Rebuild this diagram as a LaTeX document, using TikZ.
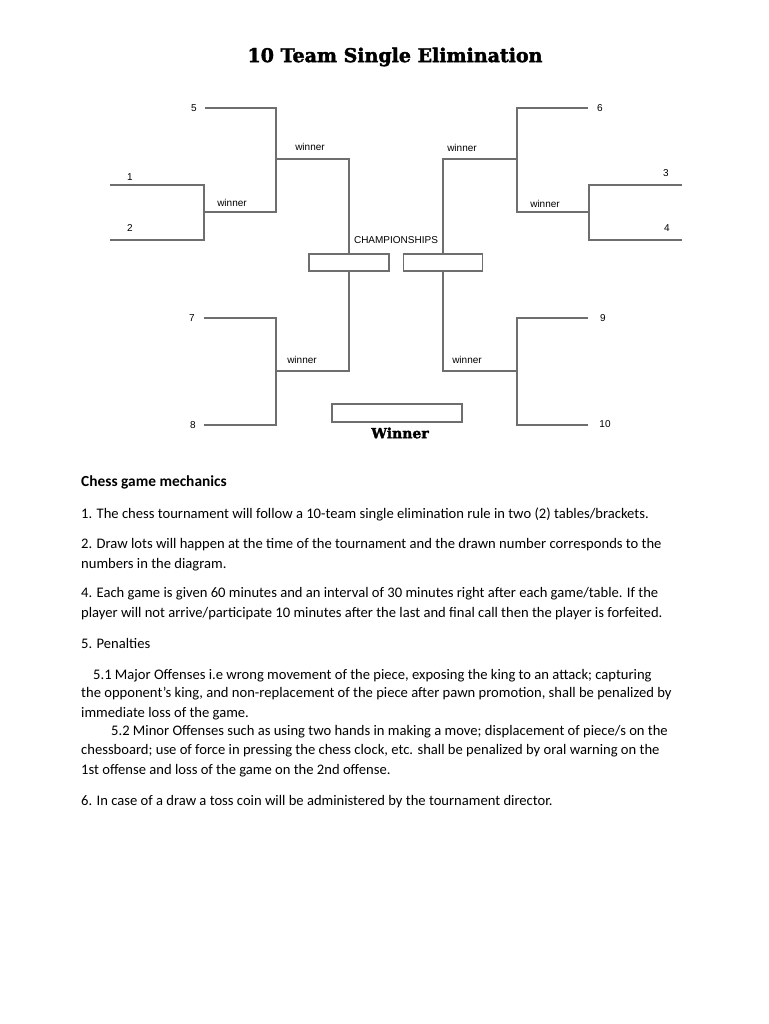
\documentclass[tikz,border=0pt]{standalone}
\usepackage{fontspec}
\setmainfont{Carlito}
\newfontfamily\arialf{Liberation Sans}
\newfontfamily\slabf[FakeBold=2]{DejaVu Serif}
\definecolor{bline}{HTML}{6E6E6E}
\begin{document}
\begin{tikzpicture}[x=1pt,y=-1pt,
  bk/.style={draw=bline,line width=1.4pt},
  lbl/.style={font=\arialf\fontsize{10}{12}\selectfont,inner sep=0pt,text=black},
  slot/.style={draw=bline,line width=1.2pt,minimum width=80pt,minimum height=17pt,inner sep=0pt},
  para/.style={anchor=base west,inner sep=0pt,font=\fontsize{14.6}{17}\selectfont,text=black}]
\useasboundingbox[fill=white] (0,0) rectangle (768,1024);
% title
\node[inner sep=0pt,font=\slabf\bfseries\fontsize{19}{22}\selectfont] (title) at (395,57) {10 Team Single Elimination};
% boxes
\node[slot] (boxL) at (349,262.5) {};
\node[slot,minimum width=79pt] (boxR) at (443,262.5) {};
\node[slot,minimum width=130pt,minimum height=18pt] (boxW) at (397,413) {};
\node[inner sep=0pt,font=\slabf\bfseries\fontsize{14}{16}\selectfont] (wtxt) at (400,433) {Winner};
\node[lbl] (champ) at (396,240) {CHAMPIONSHIPS};
% left bracket coordinates
\coordinate (s5) at (205,108); \coordinate (j5) at (276,108);
\coordinate (s1) at (110,185); \coordinate (j1) at (204,185);
\coordinate (s2) at (110,240); \coordinate (j2) at (204,240);
\coordinate (m12) at (204,212); \coordinate (e12) at (276,212);
\coordinate (a1) at (276,159); \coordinate (a2) at (349,159);
\coordinate (s7) at (204,318); \coordinate (j7) at (276,318);
\coordinate (s8) at (204,425); \coordinate (j8) at (276,425);
\coordinate (b1) at (276,371); \coordinate (b2) at (349,371);
% right bracket coordinates
\coordinate (s6) at (588,108); \coordinate (j6) at (517,108);
\coordinate (s3) at (682,185); \coordinate (j3) at (589,185);
\coordinate (s4) at (682,240); \coordinate (j4) at (589,240);
\coordinate (m34) at (589,212); \coordinate (e34) at (517,212);
\coordinate (c1) at (517,159); \coordinate (c2) at (443,159);
\coordinate (s9) at (588,318); \coordinate (j9) at (517,318);
\coordinate (s10) at (588,425); \coordinate (j10) at (517,425);
\coordinate (d1) at (517,371); \coordinate (d2) at (443,371);
% left lines
\draw[bk] (s5) -- (j5) -- (e12) -- (m12);
\draw[bk] (s1) -- (j1) -- (j2) -- (s2);
\draw[bk] (a1) -- (a2) -- (boxL.north);
\draw[bk] (s7) -- (j7) -- (j8) -- (s8);
\draw[bk] (b1) -- (b2) -- (boxL.south);
% right lines
\draw[bk] (s6) -- (j6) -- (e34) -- (m34);
\draw[bk] (s3) -- (j3) -- (j4) -- (s4);
\draw[bk] (c1) -- (c2) -- (boxR.north);
\draw[bk] (s9) -- (j9) -- (j10) -- (s10);
\draw[bk] (d1) -- (d2) -- (boxR.south);
% seed labels
\node[lbl] (n5) at (194,108) {5};
\node[lbl] (n1) at (130,177) {1};
\node[lbl] (n2) at (130,228) {2};
\node[lbl] (n7) at (192,318) {7};
\node[lbl] (n8) at (193,425) {8};
\node[lbl] (n6) at (600,108) {6};
\node[lbl] (n3) at (666,173) {3};
\node[lbl] (n4) at (667,228) {4};
\node[lbl] (n9) at (603,318) {9};
\node[lbl] (n10) at (605,424) {10};
% winner labels
\node[lbl] (w1) at (310,147) {winner};
\node[lbl] (w2) at (232,203) {winner};
\node[lbl] (w3) at (302,360) {winner};
\node[lbl] (w4) at (462,148) {winner};
\node[lbl] (w5) at (545,204) {winner};
\node[lbl] (w6) at (467,360) {winner};
% text
\node[para,font=\bfseries\fontsize{15.4}{17}\selectfont] (t0) at (81,486) {Chess game mechanics};
\node[para] (t1) at (81,518) {1. The chess tournament will follow a 10-team single elimination rule in two (2) tables/brackets.};
\node[para] (t2) at (81,548) {2. Draw lots will happen at the time of the tournament and the drawn number corresponds to the};
\node[para] (t3) at (81,568) {numbers in the diagram.};
\node[para] (t4) at (81,597) {4. Each game is given 60 minutes and an interval of 30 minutes right after each game/table. If the};
\node[para] (t5) at (81,617) {player will not arrive/participate 10 minutes after the last and final call then the player is forfeited.};
\node[para] (t6) at (81,648) {5. Penalties};
\node[para] (t7) at (93,679) {5.1 Major Offenses i.e wrong movement of the piece, exposing the king to an attack; capturing};
\node[para] (t8) at (81,697) {the opponent’s king, and non-replacement of the piece after pawn promotion, shall be penalized by};
\node[para] (t9) at (81,717) {immediate loss of the game.};
\node[para] (t10) at (111,735) {5.2 Minor Offenses such as using two hands in making a move; displacement of piece/s on the};
\node[para] (t11) at (81,754) {chessboard; use of force in pressing the chess clock, etc. shall be penalized by oral warning on the};
\node[para] (t12) at (81,774) {1st offense and loss of the game on the 2nd offense.};
\node[para] (t13) at (81,805) {6. In case of a draw a toss coin will be administered by the tournament director.};
\end{tikzpicture}
\end{document}
